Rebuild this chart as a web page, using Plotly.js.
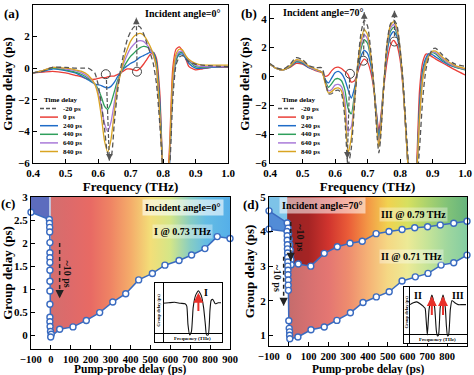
<!DOCTYPE html>
<html><head><meta charset="utf-8">
<script src="https://cdn.plot.ly/plotly-3.0.1.min.js"></script>
<style>html,body{margin:0;padding:0;background:#fff}#chart{width:474px;height:375px}</style>
</head><body><div id="chart"></div>
<script>
// ---------------- DATA ----------------
const SERIES_NAMES = ['-20 ps','0 ps','240 ps','440 ps','640 ps','840 ps'];

// Panel (a): incident angle 0 deg
const FREQ_A = [0.40,0.43,0.46,0.50,0.53,0.55,0.57,0.59,0.60,0.61,0.62,0.63,0.64,0.65,0.66,0.67,0.68,0.69,0.70,0.71,0.72,0.73,0.74,0.75,0.76,0.77,0.78,0.79,0.80,0.81,0.82,0.83,0.84,0.85,0.86,0.87,0.88,0.90,0.92,0.95,1.00];
const A_M20 = [-0.3,-0.2,0.05,0.05,0.0,0.0,0.0,-0.3,-1.0,-2.2,-3.8,-5.4,-5.6,-3.5,-1.5,0.0,1.0,1.8,2.3,2.6,2.7,2.6,2.2,1.6,1.0,0.3,-1.0,-3.5,-6.5,-8,-6.5,-2.0,0.2,0.7,0.8,0.6,0.4,0.25,0.2,0.15,0.1];
const A_0   = [-0.3,-0.25,-0.2,-0.3,-0.45,-0.55,-0.7,-0.7,-0.65,-0.6,-0.6,-0.55,-0.5,-0.5,-0.4,-0.3,-0.15,-0.05,-0.05,-0.1,-0.15,0.0,0.25,0.55,0.85,1.0,0.6,-1.5,-6.5,-8,-5.0,0.0,1.2,1.35,1.1,0.6,0.1,-0.1,-0.05,0.05,0.05];
const A_240 = [-0.3,-0.2,-0.05,-0.15,-0.3,-0.5,-0.75,-1.0,-1.05,-1.1,-1.2,-1.25,-1.15,-0.9,-0.55,-0.25,0.0,0.15,0.3,0.4,0.55,0.7,0.8,0.9,1.0,1.0,0.4,-2.0,-6.5,-8,-6.0,-1.0,0.5,0.85,0.9,0.6,0.3,0.0,0.0,0.05,0.1];
const A_440 = [-0.3,-0.15,0.0,-0.1,-0.25,-0.4,-0.65,-1.0,-1.3,-1.8,-2.4,-2.6,-2.2,-1.5,-0.8,-0.3,0.1,0.45,0.75,0.95,1.15,1.3,1.38,1.35,1.2,0.95,0.2,-2.5,-6.5,-8,-6.0,-1.2,0.5,0.95,1.0,0.7,0.45,0.1,0.05,0.1,0.1];
const A_640 = [-0.3,-0.15,0.05,-0.05,-0.15,-0.3,-0.55,-1.0,-1.5,-2.4,-3.5,-4.0,-3.4,-2.2,-1.0,-0.3,0.35,0.85,1.25,1.5,1.7,1.75,1.7,1.5,1.2,0.8,0.0,-3.0,-6.5,-8,-6.0,-1.0,0.7,1.05,1.05,0.75,0.5,0.2,0.1,0.1,0.1];
const A_840 = [-0.3,-0.15,0.05,0.0,-0.1,-0.2,-0.45,-1.0,-1.7,-3.0,-4.6,-5.3,-4.5,-2.8,-1.2,-0.3,0.6,1.2,1.7,2.0,2.15,2.2,2.1,1.8,1.4,0.9,0.0,-3.0,-6.5,-8,-5.5,-0.5,0.9,1.2,1.15,0.8,0.55,0.3,0.2,0.2,0.2];

// Panel (b): incident angle 70 deg
const FREQ_B = [0.40,0.42,0.44,0.46,0.48,0.50,0.52,0.54,0.56,0.57,0.58,0.59,0.60,0.61,0.62,0.63,0.64,0.65,0.66,0.67,0.68,0.69,0.70,0.71,0.72,0.73,0.735,0.74,0.75,0.76,0.77,0.78,0.79,0.80,0.81,0.82,0.83,0.84,0.85,0.86,0.87,0.88,0.89,0.90,0.91,0.93,0.95,0.97,1.00];
const B_M20 = [0.9,0.6,0.5,0.8,1.3,1.15,0.75,0.6,0.6,-0.3,-1.2,-1.2,-1.0,-0.95,-1.2,-2.8,-6.2,-5.0,-2.0,0.9,3.0,3.9,3.5,1.8,-0.8,-4.3,-5.3,-4.4,-0.8,2.3,3.6,3.9,3.6,2.0,-0.5,-4.0,-7.0,-8,-7.5,-5.0,-1.5,0.5,1.4,1.9,1.95,1.5,1.1,0.85,0.7];
const B_0   = [0.85,0.55,0.45,0.6,0.9,0.85,0.6,0.4,0.25,0.0,0.1,0.4,0.6,0.65,0.55,0.35,0.15,-0.4,-0.3,0.3,0.9,1.2,1.0,0.3,-1.0,-3.0,-3.8,-3.0,-0.8,1.0,2.1,2.5,2.2,1.2,-1.0,-4.5,-7.5,-8,-6.5,-1.0,1.0,1.55,1.5,1.35,1.2,0.95,0.7,0.45,0.1];
const B_240 = [0.85,0.55,0.45,0.65,1.0,0.9,0.6,0.45,0.3,-0.2,-0.45,-0.1,0.25,0.35,0.2,-0.2,-0.9,-1.5,-0.8,0.4,1.4,1.8,1.6,0.8,-0.8,-3.2,-4.2,-3.4,-0.6,1.6,2.8,3.1,2.8,1.6,-0.8,-4.5,-7.5,-8,-7.0,-2.0,0.5,1.3,1.6,1.5,1.35,1.05,0.8,0.65,0.5];
const B_440 = [0.85,0.55,0.45,0.65,1.05,0.95,0.65,0.45,0.3,-0.3,-0.75,-0.5,-0.2,-0.15,-0.3,-0.9,-2.2,-2.6,-1.2,0.6,1.9,2.55,2.3,1.2,-0.8,-3.5,-4.5,-3.6,-0.6,1.9,3.1,3.4,3.0,1.7,-0.8,-4.5,-7.5,-8,-7.0,-2.5,0.2,1.1,1.5,1.65,1.55,1.15,0.85,0.65,0.45];
const B_640 = [0.85,0.55,0.45,0.7,1.1,1.0,0.65,0.45,0.3,-0.4,-1.0,-0.9,-0.6,-0.55,-0.7,-1.6,-3.8,-3.5,-1.5,0.7,2.2,2.9,2.6,1.4,-0.8,-3.7,-4.7,-3.8,-0.6,2.0,3.3,3.6,3.2,1.8,-0.8,-4.5,-7.5,-8,-7.0,-2.8,0.0,1.0,1.5,1.7,1.65,1.25,0.9,0.7,0.5];
const B_840 = [0.85,0.55,0.45,0.7,1.15,1.05,0.7,0.5,0.3,-0.5,-1.15,-1.05,-0.85,-0.8,-1.0,-2.2,-5.3,-4.3,-1.7,0.8,2.5,3.25,2.9,1.5,-0.8,-3.9,-4.9,-4.0,-0.6,2.2,3.5,3.8,3.4,1.9,-0.8,-4.5,-7.5,-8,-7.0,-3.0,-0.2,0.9,1.45,1.75,1.75,1.35,1.0,0.75,0.55];

// Open circles and dashed arrows in (a)/(b)
const CIRC_A_X = [0.624, 0.72], CIRC_A_Y = [-0.38, -0.22];
const CIRC_B_X = [0.646, 0.687, 0.783], CIRC_B_Y = [0.18, 1.09, 2.42];
const ARR_A = [[0.626,-0.75,0.635,-5.85],[0.72,0.12,0.718,3.2]];
const ARR_B = [[0.645,-0.15,0.638,-5.7],[0.688,1.45,0.69,4.45],[0.783,2.8,0.783,4.55]];

// Panel (c): peak I @ 0.73 THz
const XC = [-100,-8,-7,-6,-6,-5,-5,-5,-5,-5,-5,-5,-5,-5,-5,-4,-2,2,-1,44,111,178,245,311,376,441,510,573,644,707,774,836,900];
const YC = [2.67,2.51,2.43,2.34,2.24,2.01,1.79,1.68,1.58,1.41,1.17,0.96,0.67,0.39,0.29,0.19,0.08,0.02,-0.04,0.13,0.18,0.32,0.49,0.72,0.9,1.2,1.34,1.52,1.62,1.74,1.88,2.14,2.1];

// Panel (d): peaks III @ 0.79 THz and II @ 0.71 THz
const XD3 = [-100,-8,-4,-1,2,5,7,9,11,12,48,111,179,245,309,371,441,506,572,636,701,765,833,900];
const YD3 = [4.6,4.25,4.1,3.95,3.78,3.62,3.47,3.32,3.18,3.04,3.06,3.0,3.37,3.56,3.66,3.72,3.94,4.0,4.06,4.11,4.14,4.19,4.24,4.3];
const XD2 = [-100,-9,-8,-8,-7,-7,-6,-6,-5,-5,-4,-4,-3,-3,-2,0,2,4,4,5,46,112,179,243,311,375,442,507,572,639,703,769,833,900];
const YD2 = [4.07,4.0,3.88,3.75,3.62,3.5,3.38,3.25,3.12,3.0,2.88,2.75,2.6,2.45,2.3,1.42,1.2,1.1,1.0,0.9,0.95,1.16,1.24,1.43,1.65,1.95,2.11,2.26,2.57,2.69,2.79,3.03,3.1,3.32];

// Insets (schematic spectra)
const IXC = [0,0.1,0.2,0.3,0.38,0.41,0.43,0.46,0.49,0.52,0.56,0.61,0.66,0.7,0.73,0.75,0.78,0.81,0.83,0.86,0.9,0.95,1.0];
const IYC = [0.64,0.65,0.66,0.64,0.63,0.58,0.2,-0.02,0.05,0.55,0.8,0.9,0.8,0.55,0.2,-0.02,-0.02,0.5,0.7,0.72,0.63,0.65,0.65];
const IXD = [0,0.06,0.12,0.18,0.24,0.27,0.29,0.31,0.34,0.39,0.44,0.47,0.49,0.51,0.54,0.59,0.63,0.65,0.67,0.69,0.72,0.75,0.8,0.86,0.93,1.0];
const IYD = [0.66,0.7,0.72,0.68,0.62,0.58,0.3,0.0,0.55,0.87,0.6,0.1,-0.02,0.0,0.6,0.87,0.6,0.2,-0.02,0.0,0.55,0.75,0.7,0.66,0.66,0.66];

// ---------------- STYLE ----------------
const FF = '"Liberation Serif","Times New Roman",serif';
const W = 474, H = 375;
const COLORS = ['#555555','#ea3f38','#1f6cc8','#2f9f5c','#a97ad8','#d9a422'];
const DOT_BLUE = '#3a6bc0';
const C_XR = [-100, 900], C_YR = [-0.3, 3];
const D_XR = [-100, 900], D_YR = [0.69, 5];
const px = (x) => x / W, py = (y) => 1 - y / H;

const traces = [];
const A_SERIES = [A_M20, A_0, A_240, A_440, A_640, A_840];
const B_SERIES = [B_M20, B_0, B_240, B_440, B_640, B_840];
const order = [1,2,3,4,5,0];
order.forEach(i => {
  traces.push({x: FREQ_A, y: A_SERIES[i], xaxis:'x', yaxis:'y', mode:'lines', hoverinfo:'skip',
    line:{color: COLORS[i], width: 1.3, dash: i === 0 ? '5px,3px' : 'solid', shape:'spline', smoothing:0.6}, showlegend:false});
});
order.forEach(i => {
  traces.push({x: FREQ_B, y: B_SERIES[i], xaxis:'x2', yaxis:'y2', mode:'lines', hoverinfo:'skip',
    line:{color: COLORS[i], width: 1.3, dash: i === 0 ? '5px,3px' : 'solid', shape:'spline', smoothing:0.6}, showlegend:false});
});
traces.push({x: CIRC_A_X, y: CIRC_A_Y, xaxis:'x', yaxis:'y', mode:'markers', marker:{symbol:'circle-open', size:9, color:'#444', line:{width:1}}, showlegend:false});
traces.push({x: CIRC_B_X, y: CIRC_B_Y, xaxis:'x2', yaxis:'y2', mode:'markers', marker:{symbol:'circle-open', size:9, color:'#444', line:{width:1}}, showlegend:false});

// gradient fills (c)
traces.push({
  x: XC.concat([C_XR[1], C_XR[0]]), y: YC.concat([C_YR[1], C_YR[1]]),
  xaxis:'x3', yaxis:'y3', mode:'lines', line:{width:0}, fill:'toself', hoverinfo:'skip', showlegend:false,
  fillgradient:{type:'horizontal', start:-100, stop:900, colorscale:[
    [0,'rgb(92,108,190)'],[0.091,'rgb(92,108,190)'],[0.093,'rgb(185,200,228)'],[0.099,'rgb(200,190,210)'],[0.101,'rgb(212,110,110)'],
    [0.2,'rgb(222,106,106)'],[0.3,'rgb(232,106,100)'],[0.4,'rgb(239,132,100)'],[0.5,'rgb(244,172,106)'],
    [0.6,'rgb(243,222,120)'],[0.7,'rgb(212,230,135)'],[0.8,'rgb(135,205,195)'],[0.88,'rgb(100,188,228)'],[1,'rgb(85,175,233)']]}
});
// gradient fills (d)
traces.push({
  x: XD3.concat([D_XR[1], D_XR[0]]), y: YD3.concat([D_YR[1], D_YR[1]]),
  xaxis:'x4', yaxis:'y4', mode:'lines', line:{width:0}, fill:'toself', hoverinfo:'skip', showlegend:false,
  fillgradient:{type:'horizontal', start:-100, stop:900, colorscale:[
    [0,'rgb(125,195,232)'],[0.091,'rgb(125,195,232)'],[0.094,'rgb(150,36,36)'],[0.2,'rgb(165,36,36)'],
    [0.3,'rgb(208,52,46)'],[0.4,'rgb(234,92,56)'],[0.5,'rgb(243,152,70)'],[0.6,'rgb(241,210,80)'],
    [0.7,'rgb(214,224,96)'],[0.8,'rgb(170,210,110)'],[0.9,'rgb(130,195,120)'],[1,'rgb(102,180,125)']]}
});
traces.push({
  x: XD3.concat(XD2.slice().reverse()), y: YD3.concat(YD2.slice().reverse()),
  xaxis:'x4', yaxis:'y4', mode:'lines', line:{width:0}, fill:'toself', hoverinfo:'skip', showlegend:false,
  fillgradient:{type:'horizontal', start:-100, stop:900, colorscale:[
    [0,'rgb(82,140,215)'],[0.091,'rgb(82,140,215)'],[0.094,'rgb(196,108,108)'],[0.2,'rgb(214,112,112)'],
    [0.3,'rgb(228,118,114)'],[0.4,'rgb(238,140,110)'],[0.5,'rgb(245,178,118)'],[0.6,'rgb(245,216,132)'],
    [0.7,'rgb(236,234,150)'],[0.8,'rgb(198,228,152)'],[0.9,'rgb(160,215,158)'],[1,'rgb(132,205,162)']]}
});
const dotStyle = {mode:'lines+markers', cliponaxis:false, hoverinfo:'skip', showlegend:false,
  line:{color:DOT_BLUE, width:1.5}, marker:{symbol:'circle', size:6, color:'white', line:{color:DOT_BLUE, width:1.4}}};
traces.push(Object.assign({x: XC, y: YC, xaxis:'x3', yaxis:'y3'}, dotStyle));
traces.push(Object.assign({x: XD3, y: YD3, xaxis:'x4', yaxis:'y4'}, dotStyle));
traces.push(Object.assign({x: XD2, y: YD2, xaxis:'x4', yaxis:'y4'}, dotStyle));

// inset traces
traces.push({x: IXC, y: IYC, xaxis:'x5', yaxis:'y5', mode:'lines', line:{color:'#111', width:1.1, shape:'spline', smoothing:0.5}, hoverinfo:'skip', showlegend:false});
traces.push({x: IXD, y: IYD, xaxis:'x6', yaxis:'y6', mode:'lines', line:{color:'#111', width:1.1, shape:'spline', smoothing:0.5}, hoverinfo:'skip', showlegend:false});

// ---------------- LAYOUT ----------------
const tickfont = {family: FF, size: 11, color: 'black', weight: 'bold'};
const tickfontSmall = {family: FF, size: 10.5, color: 'black', weight: 'bold'};
function axis(domain, range, extra) {
  return Object.assign({domain, range, showline:true, mirror:true, linecolor:'black', linewidth:1,
    ticks:'inside', ticklen:4, tickcolor:'black', showgrid:false, zeroline:false, tickfont}, extra);
}
function ttl(t, size) { return {text: '<b>' + t + '</b>', font:{family:FF, size: size, color:'black'}, standoff: 2}; }
function inset(domain, range) {
  return {domain, range, showline:true, mirror:true, linecolor:'black', linewidth:1, ticks:'', showticklabels:false,
    showgrid:false, zeroline:true, zerolinecolor:'black', zerolinewidth:1};
}

const shapes = [], annotations = [];
function ptxt(text, x, y, size, opts) {
  annotations.push(Object.assign({xref:'paper', yref:'paper', x: px(x), y: py(y), xanchor:'center', yanchor:'middle',
    text: '<b>' + text + '</b>', showarrow:false, font:{family:FF, size: size, color:'black'}}, opts || {}));
}
// panel labels
ptxt('(a)', 11, 14, 13); ptxt('(b)', 249, 14, 13); ptxt('(c)', 8, 203, 13); ptxt('(d)', 251, 204, 13);
ptxt('Incident angle=0°', 183, 14, 10);
ptxt('Incident angle=70°', 323, 12.5, 10);
ptxt('Incident angle=0°', 183, 207, 10, {bgcolor:'rgba(255,255,255,0.6)', borderpad:2});
ptxt('Incident angle=70°', 322, 205, 10, {bgcolor:'rgba(255,255,255,0.55)', borderpad:2});
ptxt('I @ 0.73 THz', 182, 231, 10, {bgcolor:'rgba(255,255,255,0.35)', borderpad:1});
ptxt('III @ 0.79 THz', 413, 214, 10, {bgcolor:'rgba(255,255,255,0.35)', borderpad:1});
ptxt('II @ 0.71 THz', 411, 256, 10, {bgcolor:'rgba(255,255,255,0.35)', borderpad:1});
// x titles of (c) and (d)
ptxt('Pump-probe delay (ps)', 130, 369.3, 11.5);
ptxt('Pump-probe delay (ps)', 368, 369.3, 11.5);

// manual legends (compact)
[[40, 61, 42], [278, 299, 280]].forEach(([lx, tx, hx]) => {
  ptxt('Time delay', hx, 100, 7, {xanchor:'left'});
  SERIES_NAMES.forEach((name, i) => {
    const yy = 108.5 + i * 8.6;
    shapes.push({type:'line', xref:'paper', yref:'paper', x0: px(lx), x1: px(lx + 18), y0: py(yy), y1: py(yy),
      line:{color: COLORS[i], width: 1.5, dash: i === 0 ? '4px,2px' : 'solid'}});
    ptxt(name, tx, yy, 7, {xanchor:'left'});
  });
});

// dashed arrows (a)/(b)
function dashedArrow(xr, yr, a, color, width, dash) {
  shapes.push({type:'line', xref: xr, yref: yr, x0: a[0], y0: a[1], x1: a[2], y1: a[3], line:{color, width, dash}});
  const down = a[3] < a[1];
  annotations.push({xref: xr, yref: yr, x: a[2], y: a[3], ax: 0, ay: down ? -7 : 7, text:'', showarrow:true,
    arrowhead:2, arrowsize:1.1, arrowwidth: width, arrowcolor: color, standoff:0});
}
ARR_A.forEach(a => dashedArrow('x', 'y', a, '#555', 1.2, '4px,2px'));
ARR_B.forEach(a => dashedArrow('x2', 'y2', a, '#555', 1.2, '4px,2px'));
// ~10 ps arrows
dashedArrow('x3', 'y3', [44, 2.0, 44, 0.8], '#222', 1.5, '4px,3px');
dashedArrow('x4', 'y4', [10, 4.28, 10, 3.15], '#222', 1.5, '4px,3px');
dashedArrow('x4', 'y4', [-26, 3.27, -26, 1.85], '#222', 1.5, '4px,3px');
function dtxt(xr, yr, x, y, t) {
  annotations.push({xref: xr, yref: yr, x, y, text:'<b>' + t + '</b>', textangle: 90, showarrow:false,
    font:{family:FF, size:10, color:'#111'}});
}
dtxt('x3', 'y3', 85, 1.32, '~10 ps');
dtxt('x4', 'y4', 57, 3.83, '~10 ps');
dtxt('x4', 'y4', -60, 2.64, '~10 ps');

// inset decorations
function itxt(xr, yr, x, y, t, size, angle) {
  annotations.push({xref: xr, yref: yr, x, y, text:'<b>' + t + '</b>', textangle: angle || 0, showarrow:false,
    font:{family:FF, size, color:'black'}});
}
itxt('x5', 'y5', -0.075, 0.5, 'Group delay (ps)', 4.5, -90);
itxt('x5', 'y5', 0.5, -0.1, 'Frequency (THz)', 5);
itxt('x5', 'y5', 0.74, 0.86, 'I', 10);
itxt('x6', 'y6', -0.06, 0.5, 'Group delay (ps)', 4.5, -90);
itxt('x6', 'y6', 0.5, -0.1, 'Frequency (THz)', 5);
itxt('x6', 'y6', 0.14, 0.86, 'II', 10);
itxt('x6', 'y6', 0.85, 0.86, 'III', 10);
function redArrow(xr, yr, x, y0, y1) {
  annotations.push({xref: xr, yref: yr, x, y: y1, axref: xr, ayref: yr, ax: x, ay: y0, text:'', showarrow:true,
    arrowhead:2, arrowsize:1, arrowwidth:2, arrowcolor:'#e8302a', standoff:0});
}
redArrow('x5', 'y5', 0.61, 0.45, 0.86);
redArrow('x6', 'y6', 0.39, 0.4, 0.85);
redArrow('x6', 'y6', 0.59, 0.4, 0.85);
// white backgrounds of insets (drawn in inset subplot layer, below its traces)
shapes.push({type:'rect', xref:'x5', yref:'y5', x0:-1, x1:2, y0:-1, y1:2, fillcolor:'white', line:{width:0}, layer:'below'});
shapes.push({type:'rect', xref:'x6', yref:'y6', x0:-1, x1:2, y0:-1, y1:2, fillcolor:'white', line:{width:0}, layer:'below'});

const layout = {
  width: W, height: H, margin:{l:0, r:0, t:0, b:0}, paper_bgcolor:'white', plot_bgcolor:'white',
  font:{family: FF, color:'black'}, showlegend:false,
  xaxis: axis([px(33), px(228)], [0.4, 1.0], {anchor:'y', dtick:0.1, tick0:0.4, tickformat:'.1f', title: ttl('Frequency (THz)', 13)}),
  yaxis: axis([py(163), py(5)], [-6, 4], {anchor:'x', dtick:2, title: ttl('Group delay (ps)', 13)}),
  xaxis2: axis([px(270), px(465)], [0.4, 1.0], {anchor:'y2', dtick:0.1, tick0:0.4, tickformat:'.1f', title: ttl('Frequency (THz)', 13)}),
  yaxis2: axis([py(163), py(5)], [-6, 4.95], {anchor:'x2', dtick:2, title: ttl('Group delay (ps)', 13)}),
  xaxis3: axis([px(31), px(230)], C_XR, {anchor:'y3', dtick:100, tickfont: tickfontSmall}),
  yaxis3: axis([py(349), py(197)], C_YR, {anchor:'x3', dtick:0.5, title: ttl('Group delay (ps)', 13)}),
  xaxis4: axis([px(269), px(467)], D_XR, {anchor:'y4', dtick:100, tickfont: tickfontSmall}),
  yaxis4: axis([py(346), py(197)], D_YR, {anchor:'x4', dtick:1, title: ttl('Group delay (ps)', 13)}),
  xaxis5: Object.assign(inset([px(155), px(222)], [-0.138, 1.017]), {anchor:'y5'}),
  yaxis5: Object.assign(inset([py(342), py(283)], [-0.167, 1.0625]), {anchor:'x5'}),
  xaxis6: Object.assign(inset([px(404), px(467)], [-0.107, 1.018]), {anchor:'y6'}),
  yaxis6: Object.assign(inset([py(343), py(287)], [-0.174, 1.043]), {anchor:'x6'}),
  shapes, annotations
};
Plotly.newPlot('chart', traces, layout, {displayModeBar:false, staticPlot:true});
</script></body></html>
